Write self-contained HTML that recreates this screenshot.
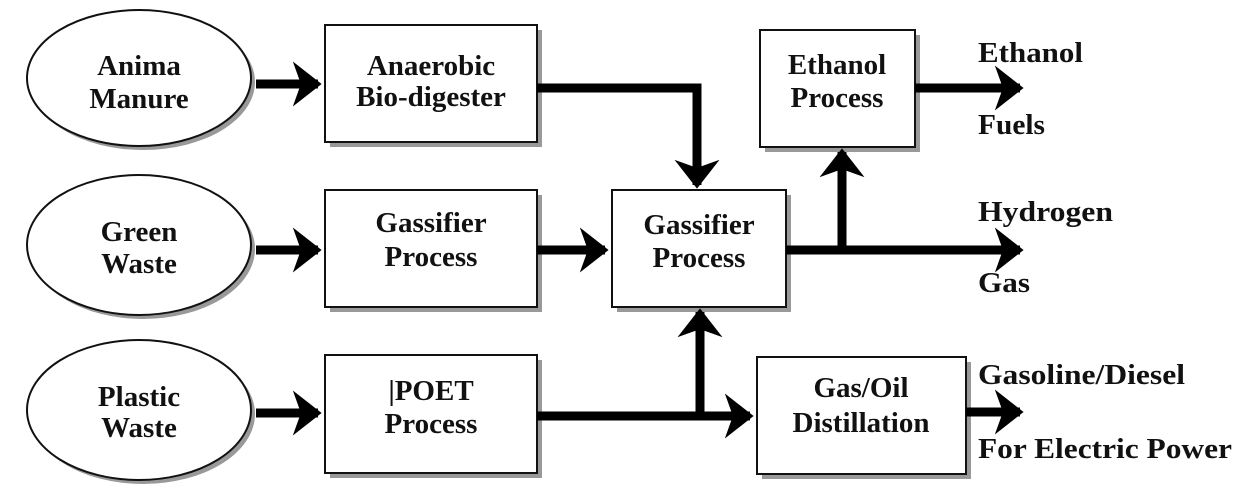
<!DOCTYPE html>
<html><head><meta charset="utf-8"><style>
html,body{margin:0;padding:0;background:#fff;width:1235px;height:499px;overflow:hidden}
</style></head><body>
<svg width="1235" height="499" viewBox="0 0 1235 499" xmlns="http://www.w3.org/2000/svg">
<defs>
<marker id="a" markerWidth="4" markerHeight="5" refX="2.8" refY="2.5" orient="auto" markerUnits="strokeWidth">
<path d="M0,0 L3.2,2.5 L0,5 L0.9,2.5 Z" fill="#000"/>
</marker>
</defs>
<g fill="#999">
<ellipse cx="143" cy="82" rx="112" ry="68"/>
<ellipse cx="143" cy="249" rx="112" ry="70"/>
<ellipse cx="143" cy="414" rx="112" ry="70"/>
<rect x="330" y="30" width="212" height="117"/>
<rect x="330" y="195" width="212" height="117"/>
<rect x="330" y="360" width="212" height="118"/>
<rect x="617" y="195" width="174" height="117"/>
<rect x="765" y="35" width="155" height="117"/>
<rect x="762" y="362" width="209" height="117"/>
</g>
<g fill="#fff" stroke="#111" stroke-width="2">
<ellipse cx="139" cy="78" rx="112" ry="68"/>
<ellipse cx="139" cy="245" rx="112" ry="70"/>
<ellipse cx="139" cy="410" rx="112" ry="70"/>
<rect x="325" y="25" width="212" height="117"/>
<rect x="325" y="190" width="212" height="117"/>
<rect x="325" y="355" width="212" height="118"/>
<rect x="612" y="190" width="174" height="117"/>
<rect x="760" y="30" width="155" height="117"/>
<rect x="757" y="357" width="209" height="117"/>
</g>
<g stroke="#000" stroke-width="9" fill="none" marker-end="url(#a)">
<line x1="256" y1="84" x2="318" y2="84"/>
<line x1="256" y1="250" x2="318" y2="250"/>
<line x1="256" y1="413" x2="318" y2="413"/>
<polyline points="537,88 697,88 697,185"/>
<line x1="537" y1="250" x2="605" y2="250"/>
<line x1="786" y1="250" x2="1020" y2="250"/>
<line x1="842" y1="250" x2="842" y2="152"/>
<line x1="915" y1="88" x2="1020" y2="88"/>
<line x1="537" y1="416" x2="750" y2="416"/>
<line x1="700" y1="416" x2="700" y2="312"/>
<line x1="966" y1="412" x2="1020" y2="412"/>
</g>
<g font-family="'Liberation Serif','DejaVu Serif',serif" font-weight="bold" font-size="29" fill="#111">
<g text-anchor="middle">
<text x="139" y="75">Anima</text><text x="139" y="108">Manure</text>
<text x="139" y="241">Green</text><text x="139" y="273">Waste</text>
<text x="139" y="406">Plastic</text><text x="139" y="437">Waste</text>
<text x="431" y="75">Anaerobic</text><text x="431" y="106">Bio-digester</text>
<text x="431" y="232">Gassifier</text><text x="431" y="266">Process</text>
<text x="431" y="400">|POET</text><text x="431" y="433">Process</text>
<text x="699" y="234">Gassifier</text><text x="699" y="267">Process</text>
<text x="837" y="74">Ethanol</text><text x="837" y="107">Process</text>
<text x="861" y="397">Gas/Oil</text><text x="861" y="432">Distillation</text>
</g>
<text x="978" y="62" textLength="105" lengthAdjust="spacingAndGlyphs">Ethanol</text>
<text x="978" y="134" textLength="67" lengthAdjust="spacingAndGlyphs">Fuels</text>
<text x="978" y="221" textLength="135" lengthAdjust="spacingAndGlyphs">Hydrogen</text>
<text x="978" y="292" textLength="52" lengthAdjust="spacingAndGlyphs">Gas</text>
<text x="978" y="384" textLength="207" lengthAdjust="spacingAndGlyphs">Gasoline/Diesel</text>
<text x="978" y="458" textLength="254" lengthAdjust="spacingAndGlyphs">For Electric Power</text>
</g>
</svg>
</body></html>
